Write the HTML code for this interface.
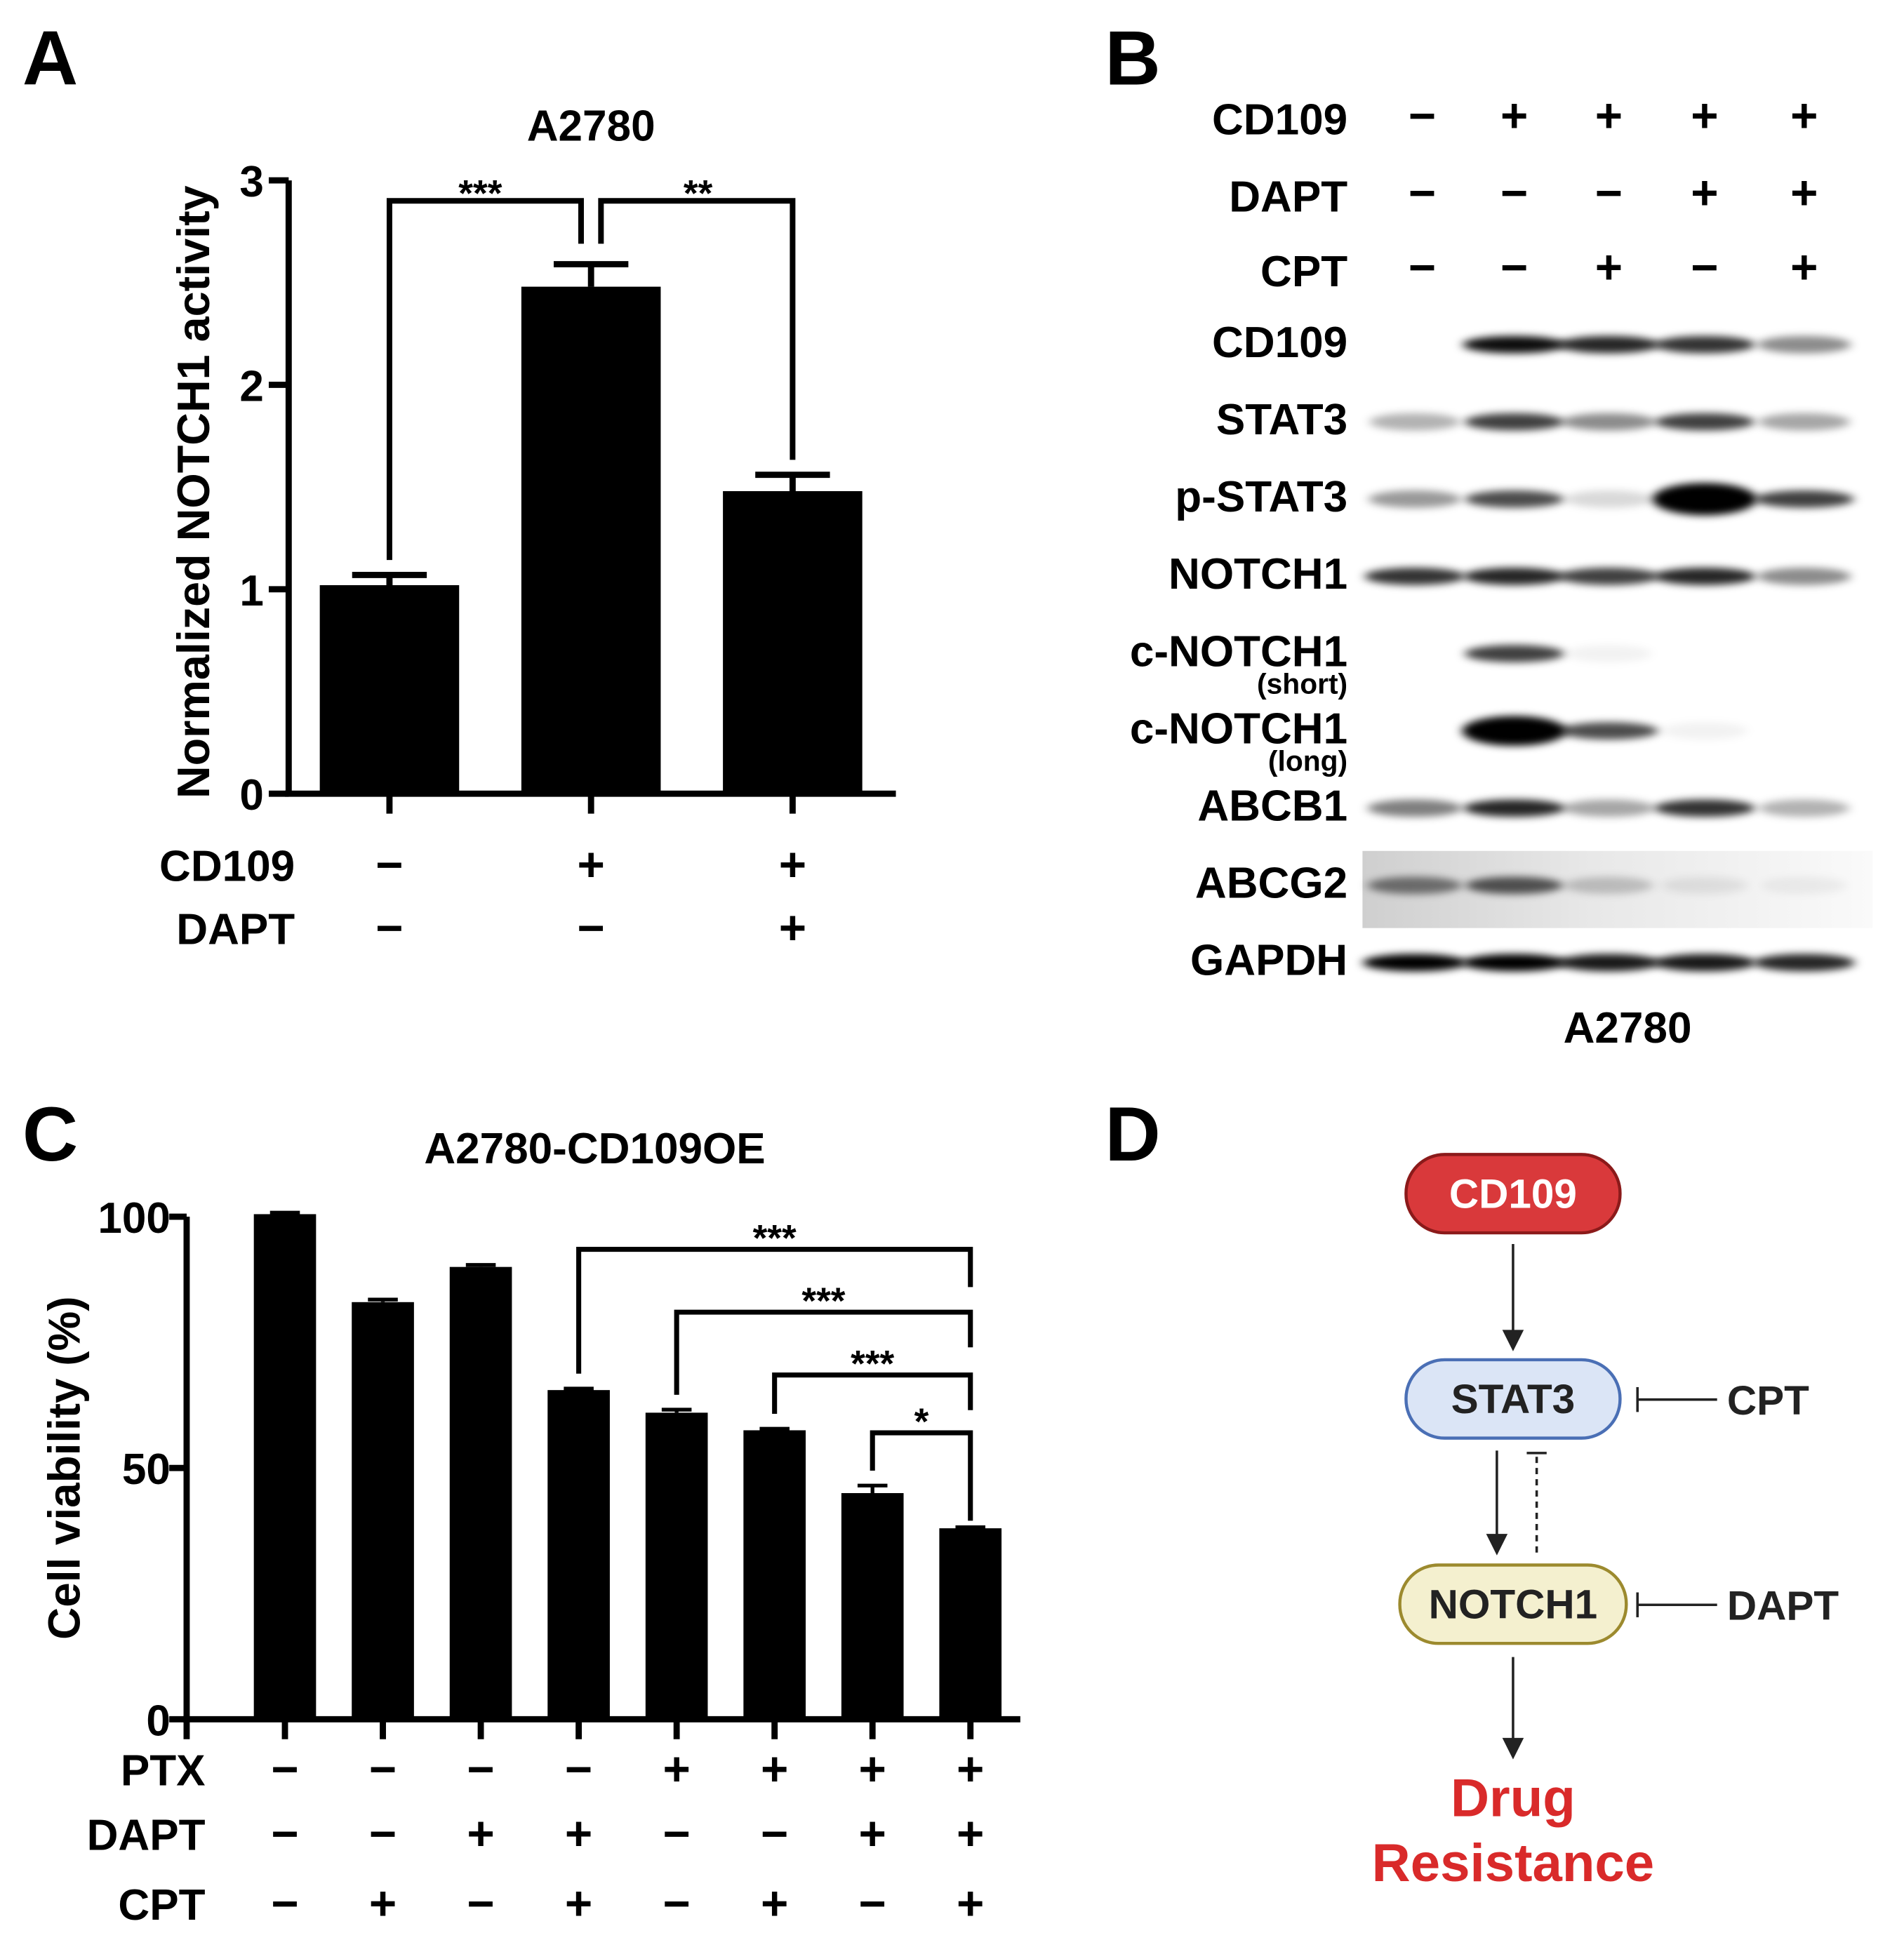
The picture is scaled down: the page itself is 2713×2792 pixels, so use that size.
<!DOCTYPE html>
<html><head><meta charset="utf-8"><style>
html,body{margin:0;padding:0;background:#fff}
svg{display:block;font-family:"Liberation Sans",Arial,sans-serif;font-weight:bold}
</style></head><body>
<svg id="fig" width="2713" height="2792" viewBox="0 0 1530.2 1574.7" preserveAspectRatio="none" xmlns="http://www.w3.org/2000/svg">
<defs>
<filter id="blur" x="-20%" y="-100%" width="140%" height="300%"><feGaussianBlur stdDeviation="4 3"/></filter>
<linearGradient id="g2bg" x1="0" x2="1" y1="0" y2="0"><stop offset="0" stop-color="#cfcfcf"/><stop offset="0.45" stop-color="#e8e8e8"/><stop offset="1" stop-color="#fafafa"/></linearGradient>
</defs>
<g id="panelA"></g>
<g id="panelC"></g>
<g id="panelB"></g>
<g id="panelD">
  <rect x="1130" y="928" width="172" height="63" rx="31" fill="#d9393b" stroke="#8b1a1a" stroke-width="2.5"/>
  <text x="1216" y="971" font-size="33" fill="#fff" text-anchor="middle">CD109</text>
  <rect x="1130" y="1093" width="172" height="63" rx="31" fill="#dbe5f6" stroke="#4a6fb5" stroke-width="2.5"/>
  <text x="1216" y="1136" font-size="33" fill="#222" text-anchor="middle">STAT3</text>
  <rect x="1125" y="1258" width="182" height="63" rx="31" fill="#f4f0cf" stroke="#9c8a2e" stroke-width="2.5"/>
  <text x="1216" y="1301" font-size="33" fill="#222" text-anchor="middle">NOTCH1</text>
  <g stroke="#222" stroke-width="2" fill="#222">
    <line x1="1216" y1="1000" x2="1216" y2="1072"/><path d="M1209,1070 L1223,1070 L1216,1084 z"/>
    <line x1="1203" y1="1166" x2="1203" y2="1236"/><path d="M1196,1234 L1210,1234 L1203,1248 z"/>
    <line x1="1235" y1="1248" x2="1235" y2="1170" stroke-dasharray="5,4"/><line x1="1227" y1="1168" x2="1243" y2="1168"/>
    <line x1="1216" y1="1332" x2="1216" y2="1400"/><path d="M1209,1398 L1223,1398 L1216,1412 z"/>
    <line x1="1316" y1="1125" x2="1380" y2="1125"/><line x1="1316" y1="1115" x2="1316" y2="1135"/>
    <line x1="1316" y1="1290" x2="1380" y2="1290"/><line x1="1316" y1="1280" x2="1316" y2="1300"/>
  </g>
  <text x="1388" y="1137" font-size="33" fill="#222">CPT</text>
  <text x="1388" y="1302" font-size="33" fill="#222">DAPT</text>
  <text x="1216" y="1460" font-size="43" fill="#d92a2a" text-anchor="middle">Drug</text>
  <text x="1216" y="1512" font-size="43" fill="#d92a2a" text-anchor="middle">Resistance</text>
</g>
</svg>
<script>
// ---------- Panel A data ----------
const aCategories = ["ctrl","CD109","CD109+DAPT"];
const aValues = [1.02, 2.48, 1.48];
const aErrors = [0.05, 0.11, 0.08];
const aTicks = [0,1,2,3];
const aCD109 = ["−","+","+"];
const aDAPT = ["−","−","+"];
// ---------- Panel C data ----------
const cCategories = ["1","2","3","4","5","6","7","8"];
const cValues = [100.5, 83, 90, 65.5, 61, 57.5, 45, 38];
const cErrors = [0.3, 0.5, 0.4, 0.3, 0.6, 0.3, 1.5, 0.2];
const cTicks = [0,50,100];
const cPTX = ["−","−","−","−","+","+","+","+"];
const cDAPT = ["−","−","+","+","−","−","+","+"];
const cCPT = ["−","+","−","+","−","+","−","+"];
// ---------- Panel B data ----------
const bLanes = ["1","2","3","4","5"];
const bCD109 = ["−","+","+","+","+"];
const bDAPTr = ["−","−","−","+","+"];
const bCPTr = ["−","−","+","−","+"];
const bProteins = ["CD109","STAT3","p-STAT3","NOTCH1","c-NOTCH1","c-NOTCH1","ABCB1","ABCG2","GAPDH"];
const bSub = ["","","","","(short)","(long)","","",""];
const bIntensity = [
 [0,0.95,0.85,0.8,0.45],
 [0.3,0.75,0.45,0.75,0.35],
 [0.4,0.7,0.15,1,0.75],
 [0.8,0.85,0.75,0.85,0.45],
 [0,0.75,0.05,0,0],
 [0,1,0.7,0.05,0],
 [0.5,0.85,0.35,0.8,0.3],
 [0.5,0.65,0.2,0.08,0.05],
 [1,1,0.9,0.9,0.85]
];

const NS="http://www.w3.org/2000/svg";
function mk(parent,tag,attrs,txt){const e=document.createElementNS(NS,tag);for(const k in attrs)e.setAttribute(k,attrs[k]);if(txt!==undefined)e.textContent=txt;parent.appendChild(e);return e;}

// ===== Panel A =====
(function(){
 const g=document.getElementById('panelA');
 const x0=232, y0=638, yTop=145, xEnd=720;
 const y=v=>y0-(v/3)*(y0-yTop);
 const centers=[313,475,637], bw=112;
 let t=mk(g,'text',{x:18,y:68,'font-size':62,fill:'#000'},'A');
 
 
 t=mk(g,'text',{x:475,y:113,'font-size':35,'text-anchor':'middle'},'A2780');
 
 
 aValues.forEach((v,i)=>{
  const r=mk(g,'rect',{x:centers[i]-bw/2,y:y(v),width:bw,height:y0-y(v),fill:'#000'});
  
  
  const e=mk(g,'path',{d:`M${centers[i]},${y(v)} V${y(v+aErrors[i])} M${centers[i]-30},${y(v+aErrors[i])} H${centers[i]+30}`,stroke:'#000','stroke-width':5,fill:'none'});
  
  
 });
 let ax=mk(g,'path',{d:`M${x0},${y0+2} V${yTop} M${x0-3},${y0} H${xEnd}`,stroke:'#000','stroke-width':5,fill:'none'});
 
 
 aTicks.forEach(v=>{
  const l=mk(g,'line',{x1:x0-16,x2:x0,y1:y(v),y2:y(v),stroke:'#000','stroke-width':5});
  
  
  const tt=mk(g,'text',{x:x0-20,y:y(v)+13,'font-size':35,'text-anchor':'end'},String(v));
  
  
 });
 centers.forEach(c=>{const l=mk(g,'line',{x1:c,x2:c,y1:y0,y2:y0+16,stroke:'#000','stroke-width':5});
  
  });
 t=mk(g,'text',{x:0,y:0,'font-size':36.5,'text-anchor':'middle',transform:`translate(168,${(y0+yTop)/2+4}) rotate(-90)`},'Normalized NOTCH1 activity');
 
 
 const b1=mk(g,'path',{d:`M${centers[0]},${y(aValues[0]+aErrors[0])-12} V${y(2.9)} H${467} V${y(2.69)}`,stroke:'#000','stroke-width':4.5,fill:'none'});
 
 
 const b2=mk(g,'path',{d:`M${483},${y(2.69)} V${y(2.9)} H${centers[2]} V${y(aValues[2]+aErrors[2])-12}`,stroke:'#000','stroke-width':4.5,fill:'none'});
 
 
 t=mk(g,'text',{x:386,y:y(2.9)+4,'font-size':30,'text-anchor':'middle'},'***');
 
 
 t=mk(g,'text',{x:561,y:y(2.9)+4,'font-size':30,'text-anchor':'middle'},'**');
 
 
 [["CD109",aCD109,708],["DAPT",aDAPT,759]].forEach(([lab,arr,yy])=>{
  const tl=mk(g,'text',{x:237,y:yy,'font-size':35,'text-anchor':'end'},lab);
  
  
  arr.forEach((s,i)=>{const ts=mk(g,'text',{x:centers[i],y:yy,'font-size':38,'text-anchor':'middle'},s);
   
   });
 });
})();

// ===== Panel C =====
(function(){
 const g=document.getElementById('panelC');
 const x0=150, y0=1382, yTop=978, xEnd=820;
 const y=v=>y0-(v/100)*(y0-yTop);
 const cx=i=>229+i*78.7, bw=50;
 let t=mk(g,'text',{x:18,y:933,'font-size':62},'C');
 
 
 t=mk(g,'text',{x:478,y:935,'font-size':35,'text-anchor':'middle'},'A2780-CD109OE');
 
 
 cValues.forEach((v,i)=>{
  const r=mk(g,'rect',{x:cx(i)-bw/2,y:y(v),width:bw,height:y0-y(v),fill:'#000'});
  
  
  const e=mk(g,'path',{d:`M${cx(i)},${y(v)} V${y(v+cErrors[i])} M${cx(i)-12},${y(v+cErrors[i])} H${cx(i)+12}`,stroke:'#000','stroke-width':3,fill:'none'});
  
  
 });
 let ax=mk(g,'path',{d:`M${x0},${y0+16} V${yTop} M${x0-3},${y0} H${xEnd}`,stroke:'#000','stroke-width':5,fill:'none'});
 
 
 cTicks.forEach(v=>{
  const l=mk(g,'line',{x1:x0-14,x2:x0,y1:y(v),y2:y(v),stroke:'#000','stroke-width':5});
  
  
  const tt=mk(g,'text',{x:x0-13,y:y(v)+13,'font-size':35,'text-anchor':'end'},String(v));
  
  
 });
 cValues.forEach((v,i)=>{const l=mk(g,'line',{x1:cx(i),x2:cx(i),y1:y0,y2:y0+16,stroke:'#000','stroke-width':5});
  
  });
 t=mk(g,'text',{x:0,y:0,'font-size':36,'text-anchor':'middle',transform:`translate(64,${(y0+yTop)/2}) rotate(-90)`},'Cell viability (%)');
 
 
 const sigFrom=[3,4,5,6], sigLevel=[93.5,81,68.5,57], sigStars=["***","***","***","*"];
 const rightEnd=[86,74,61.5,39.5];
 sigFrom.forEach((f,k)=>{
  const p=mk(g,'path',{d:`M${cx(f)},${y(cValues[f]+cErrors[f])-12} V${y(sigLevel[k])} H${cx(7)} V${y(rightEnd[k])}`,stroke:'#000','stroke-width':4,fill:'none'});
  
  
  const s=mk(g,'text',{x:(cx(f)+cx(7))/2,y:y(sigLevel[k])+1,'font-size':30,'text-anchor':'middle'},sigStars[k]);
  
  
 });
 [["PTX",cPTX,1435],["DAPT",cDAPT,1487],["CPT",cCPT,1543]].forEach(([lab,arr,yy])=>{
  const tl=mk(g,'text',{x:165,y:yy,'font-size':35,'text-anchor':'end'},lab);
  
  
  arr.forEach((s,i)=>{const ts=mk(g,'text',{x:cx(i),y:yy,'font-size':38,'text-anchor':'middle'},s);
   
   });
 });
})();

// ===== Panel B =====
(function(){
 const g=document.getElementById('panelB');
 const lx=[1143,1217,1293,1370,1450];
 let t=mk(g,'text',{x:888,y:68,'font-size':62},'B');
 
 
 [["CD109",bCD109,108],["DAPT",bDAPTr,170],["CPT",bCPTr,230]].forEach(([lab,arr,yy])=>{
  const tl=mk(g,'text',{x:1083,y:yy,'font-size':35,'text-anchor':'end'},lab);
  
  
  arr.forEach((s,i)=>{const ts=mk(g,'text',{x:lx[i],y:yy-2,'font-size':38,'text-anchor':'middle'},s);
   
   });
 });
 const r=mk(g,'rect',{x:1095,y:684,width:410,height:62,fill:'url(#g2bg)'});
 
 
 bProteins.forEach((p,k)=>{
  const yy=275+k*62.1;
  const tl=mk(g,'text',{x:1083,y:yy+12,'font-size':35,'text-anchor':'end'},p);
  
  
  if(bSub[k]){const ts=mk(g,'text',{x:1083,y:yy+34,'font-size':23,'text-anchor':'end'},bSub[k]);
   
   }
  bIntensity[k].forEach((v,i)=>{
   if(v<=0)return;
   const thick=(k===2&&i===3)?13:(k===5&&i===1)?12:7;
   const e=mk(g,'ellipse',{cx:lx[i]+(i===0?-6:0),cy:yy+2,rx:34+v*8,ry:thick,fill:'#000','fill-opacity':v,filter:'url(#blur)'});
   
   
  });
 });
 t=mk(g,'text',{x:1308,y:838,'font-size':35,'text-anchor':'middle'},'A2780');
 
 
 t=mk(g,'text',{x:888,y:933,'font-size':62},'D');
 
 
})();
</script>
</body></html>
